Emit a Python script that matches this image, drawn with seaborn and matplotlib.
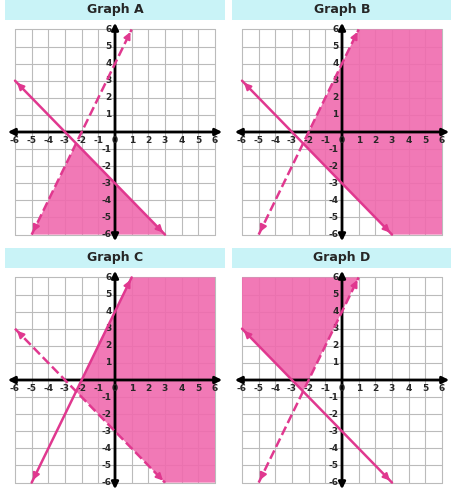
import numpy as np
import matplotlib
matplotlib.use("Agg")
import matplotlib.pyplot as plt
import seaborn as sns
import pandas as pd

sns.set_style("white")
titles = ["Graph A", "Graph B", "Graph C", "Graph D"]
line1_x = [-6, 3]          # y = -x - 3
line2_x = [-5, 1]          # y = 2x + 4
solid1 = [True, True, False, True]   # y=-x-3 solid?
solid2 = [False, False, True, False] # y=2x+4 solid?
regions = [
    [(-7/3, -2/3), (-5, -6), (3, -6)],
    [(-7/3, -2/3), (1, 6), (6, 6), (6, -6), (3, -6)],
    [(-7/3, -2/3), (1, 6), (6, 6), (6, -6), (3, -6)],
    [(-6, 3), (-7/3, -2/3), (1, 6), (-6, 6)],
]
ticks = list(range(-6, 7))
PINK = "#e0388f"
FILL = "#f06aae"

fig = plt.figure(figsize=(4.52, 4.95), dpi=100)
W, H = 452, 495
boxes = [(5, 0), (232, 0), (5, 248), (232, 248)]
for i, (bx, by) in enumerate(boxes):
    tax = fig.add_axes([bx / W, 1 - (by + 20) / H, 220 / W, 20 / H])
    tax.set_facecolor("#c9f3f7"); tax.set_xticks([]); tax.set_yticks([])
    for s in tax.spines.values(): s.set_visible(False)
    tax.text(0.5, 0.5, titles[i], ha="center", va="center", fontsize=9, fontweight="bold")
    ax = fig.add_axes([bx / W, 1 - (by + 244) / H, 220 / W, 224 / H])
    ax.set_xlim(-6.6, 6.6); ax.set_ylim(-6.55, 6.55)
    ax.axis("off")
    for t in ticks:
        ax.plot([t, t], [-6, 6], color="#bbbbbb", lw=0.8, zorder=0)
        ax.plot([-6, 6], [t, t], color="#bbbbbb", lw=0.8, zorder=0)
    poly = np.array(regions[i])
    ax.fill(poly[:, 0], poly[:, 1], color=FILL, alpha=0.9, lw=0, zorder=1)
    ax.annotate("", xy=(6.6, 0), xytext=(-6.6, 0), arrowprops=dict(arrowstyle="<|-|>", color="black", lw=2, mutation_scale=10), zorder=3)
    ax.annotate("", xy=(0, 6.55), xytext=(0, -6.55), arrowprops=dict(arrowstyle="<|-|>", color="black", lw=2, mutation_scale=10), zorder=3)
    for t in ticks:
        ax.text(t, -0.25, str(t), ha="center", va="top", fontsize=6.5, fontweight="bold", zorder=4)
        if t != 0:
            ax.text(-0.2, t, str(t), ha="right", va="center", fontsize=6.5, fontweight="bold", zorder=4)
    df1 = pd.DataFrame({"x": line1_x, "y": [-x - 3 for x in line1_x]})
    df2 = pd.DataFrame({"x": line2_x, "y": [2 * x + 4 for x in line2_x]})
    for df, solid in [(df1, solid1[i]), (df2, solid2[i])]:
        sns.lineplot(data=df, x="x", y="y", ax=ax, color=PINK, lw=1.8,
                     linestyle="-" if solid else "--", zorder=5)
        x0, y0 = df.x[0], df.y[0]; x1, y1 = df.x[1], df.y[1]
        for (a, b), (c, d) in [((x0, y0), (x1, y1)), ((x1, y1), (x0, y0))]:
            ax.annotate("", xy=(a, b), xytext=(a + (c - a) * 0.05, b + (d - b) * 0.05),
                        arrowprops=dict(arrowstyle="-|>", color=PINK, lw=1.5, mutation_scale=10), zorder=6)
    ax.set_xlabel(""); ax.set_ylabel("")
fig.savefig("out.png", dpi=100)
